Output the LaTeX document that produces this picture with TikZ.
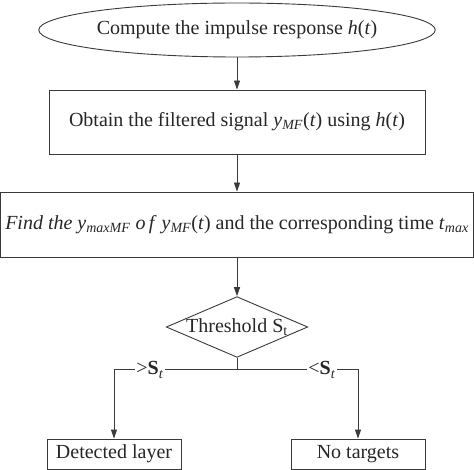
\documentclass[tikz,border=0pt]{standalone}
\usepackage{fontspec}
\setmainfont{Liberation Serif}
\usepackage{xcolor}
\usetikzlibrary{positioning,arrows.meta,shapes.geometric,calc}

\definecolor{linegray}{HTML}{3A3A3A}
\newcommand{\varsub}[2]{\textit{#1}\textsubscript{\textit{#2}}}

\begin{document}
\begin{tikzpicture}[
  x=1pt, y=-1pt,
  every node/.style={font=\fontsize{20}{24}\selectfont, text=black!85},
  startnode/.style={ellipse, draw=linegray, line width=0.9pt, minimum width=317pt, minimum height=54pt, inner sep=0pt},
  box/.style={rectangle, draw=linegray, line width=0.9pt, inner sep=0pt},
  decide/.style={diamond, draw=linegray, line width=0.9pt, aspect=2.33, minimum width=140pt, minimum height=60pt, inner sep=0pt},
  lbl/.style={fill=white, inner sep=1pt},
  flow/.style={draw=linegray, line width=0.9pt, -{Triangle[length=9pt, width=6pt]}},
  link/.style={draw=linegray, line width=0.9pt}
]
\useasboundingbox (0,0) rectangle (474,470);

% main chain
\node[startnode] (impulse) at (237,30) {Compute the impulse response \textit{h}(\textit{t})};
\node[box, minimum width=376pt, minimum height=64pt] (filter) at (237,122) {Obtain the filtered signal \varsub{y}{MF}(\textit{t}) using \textit{h}(\textit{t})};
\node[box, minimum width=473pt, minimum height=65pt] (findmax) at (237,224.5) {\textit{Find the} \varsub{y}{maxMF} \textit{o\,f} \varsub{y}{MF}(\textit{t}) and the corresponding time \varsub{t}{max}};
\node[decide] (thresh) at (237,327) {Threshold S\textsubscript{t}};

% outcomes
\node[box, minimum width=134pt, minimum height=30pt] (detected) at (114,454) {Detected layer};
\node[box, minimum width=134pt, minimum height=30pt] (notarget) at (358,454) {No targets};

\draw[flow] (impulse) -- (filter);
\draw[flow] (filter) -- (findmax);
\draw[flow] (findmax) -- (thresh);

% split below the decision
\coordinate (split) at (237,369);
\coordinate (lbend) at (114,369);
\coordinate (rbend) at (358,369);
\draw[link] (thresh.south) -- (split);
\draw[flow] (split) -- (lbend) -- (detected.north);
\draw[flow] (split) -- (rbend) -- (notarget.north);

\node[lbl] (above) at (150,370) {>\textbf{S}\textsubscript{\textit{t}}};
\node[lbl] (below) at (322,370) {<\textbf{S}\textsubscript{\textit{t}}};

\end{tikzpicture}
\end{document}
